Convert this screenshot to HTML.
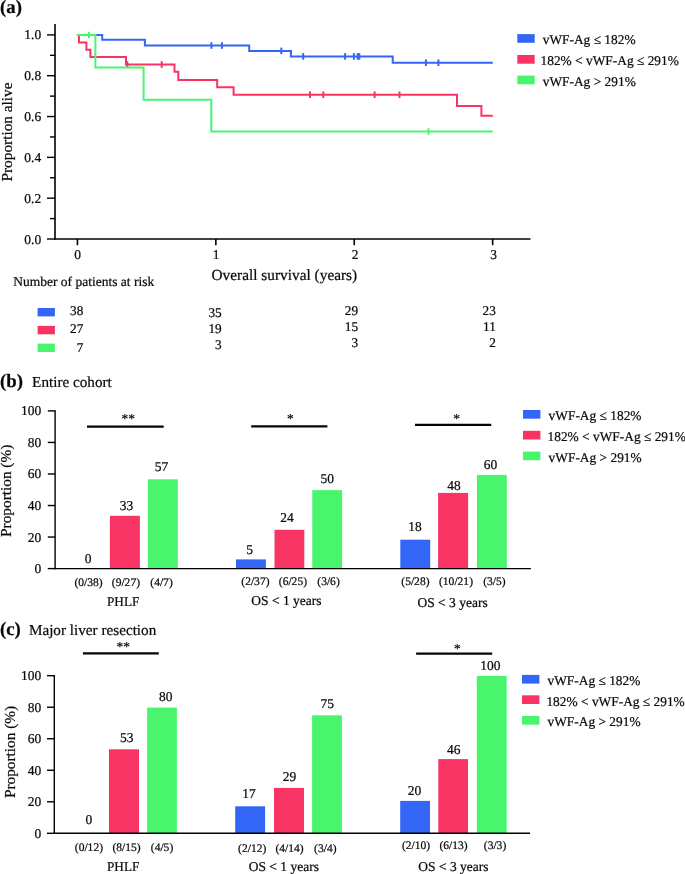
<!DOCTYPE html>
<html lang="en"><head><meta charset="utf-8"><title>Figure</title>
<style>
html,body{margin:0;padding:0;background:#fff;}
body{width:685px;height:874px;overflow:hidden;}
svg{display:block;font-family:"Liberation Serif","Times New Roman",serif;fill:#0a0a0a;}
text{stroke:#0a0a0a;stroke-width:0.22px;}
</style></head><body>
<svg width="685" height="874" viewBox="0 0 685 874">
<rect x="0" y="0" width="685" height="874" fill="#ffffff"/>
<text transform="translate(0,13.2) skewX(0.1)" font-size="18.8" font-weight="bold">(a)</text>
<line x1="55.0" y1="24.1" x2="55.0" y2="239.8" stroke="#000" stroke-width="1.6" stroke-linecap="butt"/>
<line x1="54.2" y1="239.0" x2="530.5" y2="239.0" stroke="#000" stroke-width="1.6" stroke-linecap="butt"/>
<line x1="47.0" y1="239.0" x2="55.0" y2="239.0" stroke="#000" stroke-width="1.4" stroke-linecap="butt"/>
<text transform="translate(41.2,243.5) skewX(0.1)" font-size="13.5" text-anchor="end">0.0</text>
<line x1="50.0" y1="218.59" x2="55.0" y2="218.59" stroke="#000" stroke-width="1.4" stroke-linecap="butt"/>
<line x1="47.0" y1="198.18" x2="55.0" y2="198.18" stroke="#000" stroke-width="1.4" stroke-linecap="butt"/>
<text transform="translate(41.2,202.68) skewX(0.1)" font-size="13.5" text-anchor="end">0.2</text>
<line x1="50.0" y1="177.77" x2="55.0" y2="177.77" stroke="#000" stroke-width="1.4" stroke-linecap="butt"/>
<line x1="47.0" y1="157.36" x2="55.0" y2="157.36" stroke="#000" stroke-width="1.4" stroke-linecap="butt"/>
<text transform="translate(41.2,161.86) skewX(0.1)" font-size="13.5" text-anchor="end">0.4</text>
<line x1="50.0" y1="136.95" x2="55.0" y2="136.95" stroke="#000" stroke-width="1.4" stroke-linecap="butt"/>
<line x1="47.0" y1="116.54" x2="55.0" y2="116.54" stroke="#000" stroke-width="1.4" stroke-linecap="butt"/>
<text transform="translate(41.2,121.04) skewX(0.1)" font-size="13.5" text-anchor="end">0.6</text>
<line x1="50.0" y1="96.13000000000002" x2="55.0" y2="96.13000000000002" stroke="#000" stroke-width="1.4" stroke-linecap="butt"/>
<line x1="47.0" y1="75.72" x2="55.0" y2="75.72" stroke="#000" stroke-width="1.4" stroke-linecap="butt"/>
<text transform="translate(41.2,80.22) skewX(0.1)" font-size="13.5" text-anchor="end">0.8</text>
<line x1="50.0" y1="55.31" x2="55.0" y2="55.31" stroke="#000" stroke-width="1.4" stroke-linecap="butt"/>
<line x1="47.0" y1="34.900000000000006" x2="55.0" y2="34.900000000000006" stroke="#000" stroke-width="1.4" stroke-linecap="butt"/>
<text transform="translate(41.2,39.400000000000006) skewX(0.1)" font-size="13.5" text-anchor="end">1.0</text>
<line x1="77.45" y1="239.0" x2="77.45" y2="245.2" stroke="#000" stroke-width="1.6" stroke-linecap="butt"/>
<text transform="translate(77.7,258.6) skewX(0.1)" font-size="13.5" text-anchor="middle">0</text>
<line x1="215.85000000000002" y1="239.0" x2="215.85000000000002" y2="245.2" stroke="#000" stroke-width="1.6" stroke-linecap="butt"/>
<text transform="translate(216.0,258.6) skewX(0.1)" font-size="13.5" text-anchor="middle">1</text>
<line x1="354.25" y1="239.0" x2="354.25" y2="245.2" stroke="#000" stroke-width="1.6" stroke-linecap="butt"/>
<text transform="translate(355.2,258.6) skewX(0.1)" font-size="13.5" text-anchor="middle">2</text>
<line x1="492.65000000000003" y1="239.0" x2="492.65000000000003" y2="245.2" stroke="#000" stroke-width="1.6" stroke-linecap="butt"/>
<text transform="translate(493.5,258.6) skewX(0.1)" font-size="13.5" text-anchor="middle">3</text>
<text transform="translate(11.5,181.5) rotate(-90)" font-size="15.3">Proportion alive</text>
<text transform="translate(211.5,280.2) skewX(0.1)" font-size="15.35">Overall survival (years)</text>
<text transform="translate(13.2,285.6) skewX(0.1)" font-size="13.5">Number of patients at risk</text>
<path d="M77.0,35.1 L102.2,35.1 L102.2,39.7 L144.9,39.7 L144.9,45.5 L249.2,45.5 L249.2,50.9 L290.9,50.9 L290.9,56.4 L392.7,56.4 L392.7,62.7 L492.8,62.7" fill="none" stroke="#3366f6" stroke-width="2.0" stroke-linejoin="miter"/>
<line x1="211.4" y1="42.2" x2="211.4" y2="48.8" stroke="#3366f6" stroke-width="2.0" stroke-linecap="butt"/>
<line x1="221.9" y1="42.2" x2="221.9" y2="48.8" stroke="#3366f6" stroke-width="2.0" stroke-linecap="butt"/>
<line x1="281.3" y1="47.6" x2="281.3" y2="54.199999999999996" stroke="#3366f6" stroke-width="2.0" stroke-linecap="butt"/>
<line x1="303.2" y1="53.1" x2="303.2" y2="59.699999999999996" stroke="#3366f6" stroke-width="2.0" stroke-linecap="butt"/>
<line x1="345.1" y1="53.1" x2="345.1" y2="59.699999999999996" stroke="#3366f6" stroke-width="2.0" stroke-linecap="butt"/>
<line x1="353.9" y1="53.1" x2="353.9" y2="59.699999999999996" stroke="#3366f6" stroke-width="2.0" stroke-linecap="butt"/>
<line x1="357.7" y1="53.1" x2="357.7" y2="59.699999999999996" stroke="#3366f6" stroke-width="2.0" stroke-linecap="butt"/>
<line x1="359.3" y1="53.1" x2="359.3" y2="59.699999999999996" stroke="#3366f6" stroke-width="2.0" stroke-linecap="butt"/>
<line x1="425.9" y1="59.400000000000006" x2="425.9" y2="66.0" stroke="#3366f6" stroke-width="2.0" stroke-linecap="butt"/>
<line x1="438.4" y1="59.400000000000006" x2="438.4" y2="66.0" stroke="#3366f6" stroke-width="2.0" stroke-linecap="butt"/>
<path d="M77.0,35.1 L79.0,35.1 L79.0,42.6 L86.4,42.6 L86.4,49.7 L90.4,49.7 L90.4,57.0 L126.0,57.0 L126.0,64.5 L174.5,64.5 L174.5,71.8 L178.3,71.8 L178.3,80.0 L217.2,80.0 L217.2,87.3 L233.6,87.3 L233.6,94.8 L457.0,94.8 L457.0,105.9 L481.4,105.9 L481.4,115.7 L492.8,115.7" fill="none" stroke="#f73464" stroke-width="2.0" stroke-linejoin="miter"/>
<line x1="127.3" y1="61.2" x2="127.3" y2="67.8" stroke="#f73464" stroke-width="2.0" stroke-linecap="butt"/>
<line x1="161.7" y1="61.2" x2="161.7" y2="67.8" stroke="#f73464" stroke-width="2.0" stroke-linecap="butt"/>
<line x1="310.0" y1="91.5" x2="310.0" y2="98.1" stroke="#f73464" stroke-width="2.0" stroke-linecap="butt"/>
<line x1="323.3" y1="91.5" x2="323.3" y2="98.1" stroke="#f73464" stroke-width="2.0" stroke-linecap="butt"/>
<line x1="374.6" y1="91.5" x2="374.6" y2="98.1" stroke="#f73464" stroke-width="2.0" stroke-linecap="butt"/>
<line x1="399.5" y1="91.5" x2="399.5" y2="98.1" stroke="#f73464" stroke-width="2.0" stroke-linecap="butt"/>
<path d="M76.6,35.1 L95.4,35.1 L95.4,67.5 L143.6,67.5 L143.6,99.8 L211.3,99.8 L211.3,131.6 L492.8,131.6" fill="none" stroke="#4af56e" stroke-width="2.0" stroke-linejoin="miter"/>
<line x1="88.9" y1="31.8" x2="88.9" y2="38.4" stroke="#4af56e" stroke-width="2.0" stroke-linecap="butt"/>
<line x1="428.4" y1="128.29999999999998" x2="428.4" y2="134.9" stroke="#4af56e" stroke-width="2.0" stroke-linecap="butt"/>
<rect x="517.30" y="34.10" width="17.40" height="8.70" fill="#3366f6"/>
<rect x="517.30" y="55.00" width="17.40" height="8.70" fill="#f73464"/>
<rect x="517.30" y="75.60" width="17.40" height="8.70" fill="#4af56e"/>
<text transform="translate(542.7,44.3) skewX(0.1)" font-size="13.4">vWF-Ag ≤ 182%</text>
<text transform="translate(540.5,64.8) skewX(0.1)" font-size="13.4">182% &lt; vWF-Ag ≤ 291%</text>
<text transform="translate(542.7,86.2) skewX(0.1)" font-size="13.4">vWF-Ag &gt; 291%</text>
<rect x="37.60" y="308.00" width="17.30" height="8.40" fill="#3366f6"/>
<rect x="37.60" y="325.90" width="17.30" height="8.40" fill="#f73464"/>
<rect x="37.60" y="343.60" width="17.30" height="8.40" fill="#4af56e"/>
<text transform="translate(83.4,315.1) skewX(0.1)" font-size="13.3" text-anchor="end">38</text>
<text transform="translate(83.4,333.1) skewX(0.1)" font-size="13.3" text-anchor="end">27</text>
<text transform="translate(83.4,351.7) skewX(0.1)" font-size="13.3" text-anchor="end">7</text>
<text transform="translate(221.7,316.5) skewX(0.1)" font-size="13.3" text-anchor="end">35</text>
<text transform="translate(221.7,332.7) skewX(0.1)" font-size="13.3" text-anchor="end">19</text>
<text transform="translate(221.7,348.7) skewX(0.1)" font-size="13.3" text-anchor="end">3</text>
<text transform="translate(358.1,314.9) skewX(0.1)" font-size="13.3" text-anchor="end">29</text>
<text transform="translate(358.1,330.8) skewX(0.1)" font-size="13.3" text-anchor="end">15</text>
<text transform="translate(358.1,346.7) skewX(0.1)" font-size="13.3" text-anchor="end">3</text>
<text transform="translate(495.8,314.9) skewX(0.1)" font-size="13.3" text-anchor="end">23</text>
<text transform="translate(495.8,330.7) skewX(0.1)" font-size="13.3" text-anchor="end">11</text>
<text transform="translate(495.8,346.5) skewX(0.1)" font-size="13.3" text-anchor="end">2</text>
<text transform="translate(0,386.8) skewX(0.1)" font-size="18.8" font-weight="bold">(b)</text>
<text transform="translate(32.1,386.8) skewX(0.1)" font-size="15.2">Entire cohort</text>
<text transform="translate(88.2,562.6) skewX(0.1)" font-size="13.5" text-anchor="middle">0</text>
<rect x="109.90" y="515.80" width="30.00" height="52.80" fill="#f73464"/>
<text transform="translate(126.6,509.5) skewX(0.1)" font-size="13.5" text-anchor="middle">33</text>
<rect x="147.90" y="479.30" width="29.90" height="89.30" fill="#4af56e"/>
<text transform="translate(161.5,471.4) skewX(0.1)" font-size="13.5" text-anchor="middle">57</text>
<rect x="236.00" y="559.40" width="29.90" height="9.20" fill="#3366f6"/>
<text transform="translate(249.7,554.2) skewX(0.1)" font-size="13.5" text-anchor="middle">5</text>
<rect x="274.50" y="529.80" width="29.80" height="38.80" fill="#f73464"/>
<text transform="translate(287.1,522.0) skewX(0.1)" font-size="13.5" text-anchor="middle">24</text>
<rect x="312.30" y="490.10" width="29.80" height="78.50" fill="#4af56e"/>
<text transform="translate(327.2,483.3) skewX(0.1)" font-size="13.5" text-anchor="middle">50</text>
<rect x="400.30" y="539.70" width="29.90" height="28.90" fill="#3366f6"/>
<text transform="translate(415.0,530.6) skewX(0.1)" font-size="13.5" text-anchor="middle">18</text>
<rect x="438.10" y="492.90" width="30.00" height="75.70" fill="#f73464"/>
<text transform="translate(454.0,489.9) skewX(0.1)" font-size="13.5" text-anchor="middle">48</text>
<rect x="477.00" y="474.90" width="29.80" height="93.70" fill="#4af56e"/>
<text transform="translate(490.5,468.7) skewX(0.1)" font-size="13.5" text-anchor="middle">60</text>
<line x1="55.1" y1="410.2" x2="55.1" y2="569.3000000000001" stroke="#000" stroke-width="1.4" stroke-linecap="butt"/>
<line x1="54.4" y1="568.6" x2="530.9" y2="568.6" stroke="#000" stroke-width="1.4" stroke-linecap="butt"/>
<line x1="47.800000000000004" y1="568.6" x2="55.1" y2="568.6" stroke="#000" stroke-width="1.4" stroke-linecap="butt"/>
<text transform="translate(41.2,573.1) skewX(0.1)" font-size="13.5" text-anchor="end">0</text>
<line x1="47.800000000000004" y1="537.0600000000001" x2="55.1" y2="537.0600000000001" stroke="#000" stroke-width="1.4" stroke-linecap="butt"/>
<text transform="translate(41.2,541.5600000000001) skewX(0.1)" font-size="13.5" text-anchor="end">20</text>
<line x1="47.800000000000004" y1="505.52" x2="55.1" y2="505.52" stroke="#000" stroke-width="1.4" stroke-linecap="butt"/>
<text transform="translate(41.2,510.02) skewX(0.1)" font-size="13.5" text-anchor="end">40</text>
<line x1="47.800000000000004" y1="473.98" x2="55.1" y2="473.98" stroke="#000" stroke-width="1.4" stroke-linecap="butt"/>
<text transform="translate(41.2,478.48) skewX(0.1)" font-size="13.5" text-anchor="end">60</text>
<line x1="47.800000000000004" y1="442.44" x2="55.1" y2="442.44" stroke="#000" stroke-width="1.4" stroke-linecap="butt"/>
<text transform="translate(41.2,446.94) skewX(0.1)" font-size="13.5" text-anchor="end">80</text>
<line x1="47.800000000000004" y1="410.9" x2="55.1" y2="410.9" stroke="#000" stroke-width="1.4" stroke-linecap="butt"/>
<text transform="translate(41.2,415.4) skewX(0.1)" font-size="13.5" text-anchor="end">100</text>
<text transform="translate(11.1,536.9) rotate(-90)" font-size="15.3">Proportion (%)</text>
<line x1="87.0" y1="426.7" x2="163.7" y2="426.7" stroke="#050505" stroke-width="2.3" stroke-linecap="butt"/>
<text transform="translate(128.3,423.1) skewX(0.1)" font-size="13.5" text-anchor="middle">**</text>
<line x1="251.2" y1="426.3" x2="327.4" y2="426.3" stroke="#050505" stroke-width="2.3" stroke-linecap="butt"/>
<text transform="translate(290.4,423.3) skewX(0.1)" font-size="13.5" text-anchor="middle">*</text>
<line x1="415" y1="424.9" x2="491.2" y2="424.9" stroke="#050505" stroke-width="2.3" stroke-linecap="butt"/>
<text transform="translate(456.5,422.6) skewX(0.1)" font-size="13.5" text-anchor="middle">*</text>
<text transform="translate(88.5,585.7) skewX(0.1)" font-size="11.55" text-anchor="middle">(0/38)</text>
<text transform="translate(125.9,585.7) skewX(0.1)" font-size="11.55" text-anchor="middle">(9/27)</text>
<text transform="translate(161.5,585.7) skewX(0.1)" font-size="11.55" text-anchor="middle">(4/7)</text>
<text transform="translate(255.4,585.3) skewX(0.1)" font-size="11.55" text-anchor="middle">(2/37)</text>
<text transform="translate(292.9,585.3) skewX(0.1)" font-size="11.55" text-anchor="middle">(6/25)</text>
<text transform="translate(328.5,585.3) skewX(0.1)" font-size="11.55" text-anchor="middle">(3/6)</text>
<text transform="translate(415.4,585.3) skewX(0.1)" font-size="11.55" text-anchor="middle">(5/28)</text>
<text transform="translate(456,585.3) skewX(0.1)" font-size="11.55" text-anchor="middle">(10/21)</text>
<text transform="translate(494.4,585.3) skewX(0.1)" font-size="11.55" text-anchor="middle">(3/5)</text>
<text transform="translate(123.2,606.3) skewX(0.1)" font-size="13.3" text-anchor="middle">PHLF</text>
<text transform="translate(286.4,604.7) skewX(0.1)" font-size="13.5" text-anchor="middle">OS &lt; 1 years</text>
<text transform="translate(452.6,606.7) skewX(0.1)" font-size="13.5" text-anchor="middle">OS &lt; 3 years</text>
<rect x="523.00" y="410.00" width="17.40" height="8.70" fill="#3366f6"/>
<rect x="523.00" y="430.80" width="17.40" height="8.70" fill="#f73464"/>
<rect x="523.00" y="451.60" width="17.40" height="8.70" fill="#4af56e"/>
<text transform="translate(548.6,420.1) skewX(0.1)" font-size="13.4">vWF-Ag ≤ 182%</text>
<text transform="translate(547.5,440.9) skewX(0.1)" font-size="13.4">182% &lt; vWF-Ag ≤ 291%</text>
<text transform="translate(548.6,461.7) skewX(0.1)" font-size="13.4">vWF-Ag &gt; 291%</text>
<text transform="translate(0,634.8) skewX(0.1)" font-size="18.8" font-weight="bold">(c)</text>
<text transform="translate(28.9,634.8) skewX(0.1)" font-size="15.2">Major liver resection</text>
<text transform="translate(88.8,823.8) skewX(0.1)" font-size="13.5" text-anchor="middle">0</text>
<rect x="109.00" y="749.30" width="30.00" height="84.00" fill="#f73464"/>
<text transform="translate(126.8,741.6) skewX(0.1)" font-size="13.5" text-anchor="middle">53</text>
<rect x="147.10" y="707.60" width="29.80" height="125.70" fill="#4af56e"/>
<text transform="translate(165.8,701.1) skewX(0.1)" font-size="13.5" text-anchor="middle">80</text>
<rect x="235.20" y="806.30" width="29.90" height="27.00" fill="#3366f6"/>
<text transform="translate(249.0,798.3) skewX(0.1)" font-size="13.5" text-anchor="middle">17</text>
<rect x="274.00" y="787.90" width="30.00" height="45.40" fill="#f73464"/>
<text transform="translate(289.6,780.8) skewX(0.1)" font-size="13.5" text-anchor="middle">29</text>
<rect x="312.10" y="715.30" width="29.80" height="118.00" fill="#4af56e"/>
<text transform="translate(327.2,708.3) skewX(0.1)" font-size="13.5" text-anchor="middle">75</text>
<rect x="400.20" y="800.90" width="29.80" height="32.40" fill="#3366f6"/>
<text transform="translate(414.6,794.9) skewX(0.1)" font-size="13.5" text-anchor="middle">20</text>
<rect x="438.30" y="759.10" width="29.70" height="74.20" fill="#f73464"/>
<text transform="translate(453.7,753.8) skewX(0.1)" font-size="13.5" text-anchor="middle">46</text>
<rect x="476.80" y="675.90" width="29.90" height="157.40" fill="#4af56e"/>
<text transform="translate(490.3,670.1) skewX(0.1)" font-size="13.5" text-anchor="middle">100</text>
<line x1="54.3" y1="675.0" x2="54.3" y2="834.0" stroke="#000" stroke-width="1.4" stroke-linecap="butt"/>
<line x1="53.599999999999994" y1="833.3" x2="530.0" y2="833.3" stroke="#000" stroke-width="1.4" stroke-linecap="butt"/>
<line x1="47.0" y1="833.3" x2="54.3" y2="833.3" stroke="#000" stroke-width="1.4" stroke-linecap="butt"/>
<text transform="translate(41.2,837.8) skewX(0.1)" font-size="13.5" text-anchor="end">0</text>
<line x1="47.0" y1="801.78" x2="54.3" y2="801.78" stroke="#000" stroke-width="1.4" stroke-linecap="butt"/>
<text transform="translate(41.2,806.28) skewX(0.1)" font-size="13.5" text-anchor="end">20</text>
<line x1="47.0" y1="770.26" x2="54.3" y2="770.26" stroke="#000" stroke-width="1.4" stroke-linecap="butt"/>
<text transform="translate(41.2,774.76) skewX(0.1)" font-size="13.5" text-anchor="end">40</text>
<line x1="47.0" y1="738.74" x2="54.3" y2="738.74" stroke="#000" stroke-width="1.4" stroke-linecap="butt"/>
<text transform="translate(41.2,743.24) skewX(0.1)" font-size="13.5" text-anchor="end">60</text>
<line x1="47.0" y1="707.22" x2="54.3" y2="707.22" stroke="#000" stroke-width="1.4" stroke-linecap="butt"/>
<text transform="translate(41.2,711.72) skewX(0.1)" font-size="13.5" text-anchor="end">80</text>
<line x1="47.0" y1="675.7" x2="54.3" y2="675.7" stroke="#000" stroke-width="1.4" stroke-linecap="butt"/>
<text transform="translate(41.2,680.2) skewX(0.1)" font-size="13.5" text-anchor="end">100</text>
<text transform="translate(15.1,798.1) rotate(-90)" font-size="15.3">Proportion (%)</text>
<line x1="82.9" y1="653.4" x2="158.8" y2="653.4" stroke="#050505" stroke-width="2.3" stroke-linecap="butt"/>
<text transform="translate(123.2,650.9) skewX(0.1)" font-size="13.5" text-anchor="middle">**</text>
<line x1="416.1" y1="653.7" x2="492.2" y2="653.7" stroke="#050505" stroke-width="2.3" stroke-linecap="butt"/>
<text transform="translate(457.4,652.5) skewX(0.1)" font-size="13.5" text-anchor="middle">*</text>
<text transform="translate(88.9,851.0) skewX(0.1)" font-size="11.55" text-anchor="middle">(0/12)</text>
<text transform="translate(126.5,851.0) skewX(0.1)" font-size="11.55" text-anchor="middle">(8/15)</text>
<text transform="translate(162,851.0) skewX(0.1)" font-size="11.55" text-anchor="middle">(4/5)</text>
<text transform="translate(252.2,851.7) skewX(0.1)" font-size="11.55" text-anchor="middle">(2/12)</text>
<text transform="translate(289.6,851.7) skewX(0.1)" font-size="11.55" text-anchor="middle">(4/14)</text>
<text transform="translate(325.3,851.7) skewX(0.1)" font-size="11.55" text-anchor="middle">(3/4)</text>
<text transform="translate(416,848.7) skewX(0.1)" font-size="11.55" text-anchor="middle">(2/10)</text>
<text transform="translate(453.5,848.7) skewX(0.1)" font-size="11.55" text-anchor="middle">(6/13)</text>
<text transform="translate(495,848.7) skewX(0.1)" font-size="11.55" text-anchor="middle">(3/3)</text>
<text transform="translate(123.2,871.3) skewX(0.1)" font-size="13.3" text-anchor="middle">PHLF</text>
<text transform="translate(283.8,870.6) skewX(0.1)" font-size="13.5" text-anchor="middle">OS &lt; 1 years</text>
<text transform="translate(453.4,870.6) skewX(0.1)" font-size="13.5" text-anchor="middle">OS &lt; 3 years</text>
<rect x="522.00" y="674.90" width="17.40" height="8.70" fill="#3366f6"/>
<rect x="522.00" y="695.30" width="17.40" height="8.70" fill="#f73464"/>
<rect x="522.00" y="716.00" width="17.40" height="8.70" fill="#4af56e"/>
<text transform="translate(547.5,684.8) skewX(0.1)" font-size="13.4">vWF-Ag ≤ 182%</text>
<text transform="translate(546.4,705.6) skewX(0.1)" font-size="13.4">182% &lt; vWF-Ag ≤ 291%</text>
<text transform="translate(547.5,726.4) skewX(0.1)" font-size="13.4">vWF-Ag &gt; 291%</text>
</svg>
</body></html>
